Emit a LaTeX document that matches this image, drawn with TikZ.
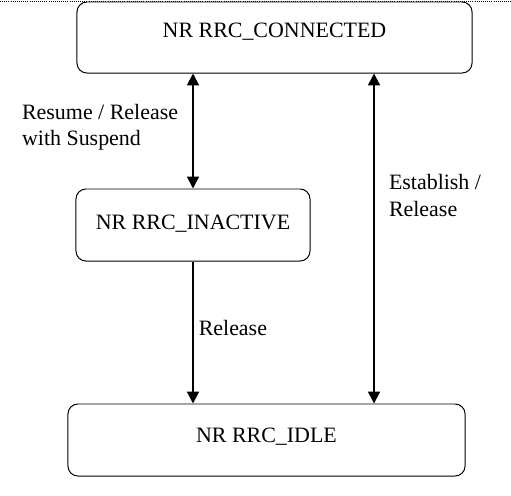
\documentclass[tikz,border=0pt]{standalone}
\usepackage{fontspec}
\setmainfont{Liberation Serif}
\usetikzlibrary{arrows.meta}

\tikzset{
    state/.style = {draw, rounded corners=0.25cm, line width=0.7pt, text height=0.364cm, inner sep=0pt},
    link/.style = {line width=1.4pt, -{Triangle[width=8.5pt, length=8.5pt]}},
    twolink/.style = {line width=1.4pt, {Triangle[width=8.5pt, length=8.5pt]}-{Triangle[width=8.5pt, length=8.5pt]}},
    lbl/.style = {inner sep=0pt, align=left}
}

\begin{document}
\begin{tikzpicture}[x=0.025cm, y=-0.025cm, font=\fontsize{15.6}{18.8}\selectfont]
        \useasboundingbox (0,0) rectangle (511,495);
        \draw[densely dotted, line width=0.5pt] (0,1) -- (511,1);

        \node[state, minimum width=9.875cm, minimum height=1.775cm, text depth=0.35cm] (conn) at (274.5,37.5) {NR RRC\_CONNECTED};
        \node[state, minimum width=5.85cm, minimum height=1.8cm, text depth=0.125cm] (inac) at (193,225) {NR RRC\_INACTIVE};
        \node[state, minimum width=9.925cm, minimum height=1.8cm, text depth=0.225cm] (idle) at (266.5,440) {NR RRC\_IDLE};

        \draw[twolink] (inac.north |- conn.south) -- node[lbl, left=0.35cm, pos=0.465] {Resume / Release\\with Suspend} (inac.north);
        \draw[link] (inac.south) -- node[lbl, right=0.12cm, pos=0.465] {Release} (inac.south |- idle.north);
        \draw[twolink] ([xshift=2.4875cm]conn.south) -- node[lbl, right=0.35cm, pos=0.37] {Establish /\\Release} ([xshift=2.4875cm]conn.south |- idle.north);
    \end{tikzpicture}
\end{document}
